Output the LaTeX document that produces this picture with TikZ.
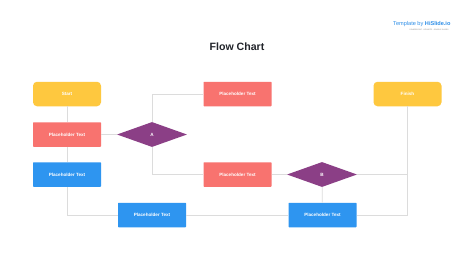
\documentclass[tikz,border=0pt]{standalone}
\usepackage{fontspec}
\setmainfont{Liberation Sans}
\usetikzlibrary{shapes.geometric}
\definecolor{cyel}{HTML}{FEC83F}
\definecolor{cred}{HTML}{F8736F}
\definecolor{cpur}{HTML}{8B3F86}
\definecolor{cblu}{HTML}{2E95F0}
\definecolor{cline}{HTML}{DCDCDC}
\definecolor{ctitle}{HTML}{22252B}
\definecolor{clogo}{HTML}{2E8FE8}
\begin{document}
\begin{tikzpicture}[x=1pt,y=-1pt,
  boxbase/.style={minimum width=68pt,minimum height=24.5pt,inner sep=0pt,text=white,font=\fontsize{4.6}{5}\selectfont\bfseries},
  termbox/.style={boxbase,fill=cyel,rounded corners=4pt},
  redbox/.style={boxbase,fill=cred,rounded corners=0.6pt},
  blubox/.style={boxbase,fill=cblu,rounded corners=0.6pt},
  decbox/.style={diamond,fill=cpur,aspect=2.8,minimum width=70pt,minimum height=25pt,inner sep=0pt,text=white,font=\fontsize{4.6}{5}\selectfont\bfseries},
  conn/.style={draw=cline,line width=0.7pt}]
\fill[white] (0,0) rectangle (474,266);
\useasboundingbox (0,0) rectangle (474,266);
% title and logo
\node[font=\fontsize{10.6}{12}\selectfont\bfseries,text=ctitle] (title) at (237,47) {Flow Chart};
\node[font=\fontsize{5.6}{6}\selectfont,text=clogo,anchor=east] (logo) at (454,24) {Template by \textbf{HiSlide.io}};
\node[font=\fontsize{1.8}{2}\selectfont,text=gray,anchor=east] (logosub) at (452,29.5) {POWERPOINT · KEYNOTE · GOOGLE SLIDES};
% nodes
\node[termbox] (start) at (67,94) {Start};
\node[redbox] (p1) at (67,134.5) {Placeholder Text};
\node[decbox] (a) at (152,134.5) {A};
\node[blubox] (p2) at (67,174.5) {Placeholder Text};
\node[blubox] (p3) at (152,215) {Placeholder Text};
\node[redbox] (p4) at (237.5,94) {Placeholder Text};
\node[redbox] (p5) at (237.5,174.5) {Placeholder Text};
\node[decbox] (b) at (322,174.5) {B};
\node[blubox] (p6) at (322.5,215) {Placeholder Text};
\node[termbox] (finish) at (407.5,94) {Finish};
% connectors
\draw[conn] (start) -- (p1);
\draw[conn] (p1) -- (p2);
\draw[conn] (p1) -- (a);
\draw[conn] (a.north) |- (p4.west);
\draw[conn] (a.south) |- (p5.west);
\draw[conn] (p5) -- (b);
\draw[conn] (b) -- (p6);
\draw[conn] (p2.south) |- (p3.west);
\draw[conn] (p3) -- (p6);
\draw[conn] (b.east) -| (finish.south);
\draw[conn] (p6.east) -| (finish.south);
\end{tikzpicture}
\end{document}
